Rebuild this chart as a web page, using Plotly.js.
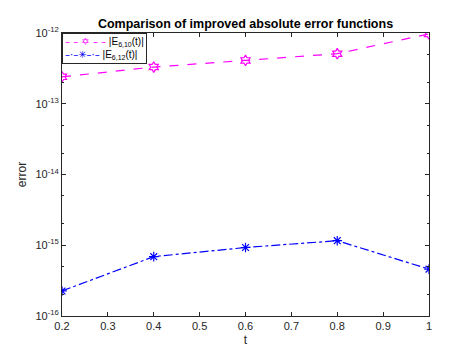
<!DOCTYPE html>
<html><head><meta charset="utf-8">
<script src="https://cdn.plot.ly/plotly-3.0.1.min.js"></script>
<style>html,body{margin:0;padding:0;background:#fff}#chart{width:474px;height:355px}</style>
</head><body><div id="chart"></div>
<script>
const t = [0.2, 0.4, 0.6, 0.8, 1.0];
const err610 = [2.4e-13, 3.3e-13, 4.1e-13, 5.1e-13, 9.7e-13];
const err612 = [2.26e-16, 6.9e-16, 9.3e-16, 1.16e-15, 4.6e-16];
const seriesNames = ['|E<sub>6,10</sub>(t)|', '|E<sub>6,12</sub>(t)|'];
const seriesColors = ['#ff00ff', '#0000ff'];
const xTicks = [0.2, 0.3, 0.4, 0.5, 0.6, 0.7, 0.8, 0.9, 1];
const xTickText = ['0.2', '0.3', '0.4', '0.5', '0.6', '0.7', '0.8', '0.9', '1'];
const yTicks = [1e-16, 1e-15, 1e-14, 1e-13, 1e-12];
const yTickText = ['10<sup>-16</sup>', '10<sup>-15</sup>', '10<sup>-14</sup>', '10<sup>-13</sup>', '10<sup>-12</sup>'];

const traces = [
  {x: t, y: err610, type: 'scatter', mode: 'lines+markers',
   name: seriesNames[0],
   line: {color: seriesColors[0], width: 1.2, dash: 'dash'},
   marker: {symbol: 'hexagram-open', size: 8, color: seriesColors[0], line: {width: 1.2, color: seriesColors[0]}}},
  {x: t, y: err612, type: 'scatter', mode: 'lines+markers',
   name: seriesNames[1],
   line: {color: seriesColors[1], width: 1.2, dash: 'dashdot'},
   marker: {symbol: 'asterisk-open', size: 8, color: seriesColors[1], line: {width: 1.2, color: seriesColors[1]}}}
];

const glyph = 'font-family:DejaVu Sans;color:';
const legendText =
  '<span style="' + glyph + seriesColors[0] + '">– – ✡ – –</span> ' + seriesNames[0] + '<br>' +
  '<span style="' + glyph + seriesColors[1] + '">–·–✳–·–</span> ' + seriesNames[1];

const axisFont = {family: 'Liberation Sans, Arial, sans-serif', size: 11, color: '#262626'};
const layout = {
  width: 474, height: 355,
  margin: {l: 62, r: 45, t: 33, b: 39},
  paper_bgcolor: '#fff', plot_bgcolor: '#fff',
  title: {text: '<b>Comparison of improved absolute error functions</b>',
          font: {family: 'Liberation Sans, Arial, sans-serif', size: 12.5, color: '#000'},
          x: 0.5, xref: 'paper', y: 1, yref: 'paper', yanchor: 'bottom', pad: {b: 5}},
  showlegend: false,
  annotations: [{
    xref: 'paper', yref: 'paper', x: 0, y: 1, xanchor: 'left', yanchor: 'top',
    text: legendText, showarrow: false, align: 'left',
    font: {family: 'Liberation Sans, Arial, sans-serif', size: 10, color: '#000'},
    bgcolor: '#fff', bordercolor: '#262626', borderwidth: 1, borderpad: 2
  }],
  xaxis: {range: [0.2, 1], tickvals: xTicks, ticktext: xTickText,
          ticks: 'inside', ticklen: 4, tickcolor: '#262626',
          showline: true, linecolor: '#262626', linewidth: 1, mirror: 'ticks',
          showgrid: false, zeroline: false, tickfont: axisFont,
          title: {text: 't', font: {family: 'Liberation Sans, Arial, sans-serif', size: 12, color: '#262626'}, standoff: 4}},
  yaxis: {type: 'log', range: [-16, -12], tickvals: yTicks, ticktext: yTickText,
          ticks: 'inside', ticklen: 4, tickcolor: '#262626',
          minor: {ticks: 'inside', ticklen: 2, tickcolor: '#262626', dtick: 'D2'},
          showline: true, linecolor: '#262626', linewidth: 1, mirror: 'ticks',
          showgrid: false, zeroline: false, tickfont: axisFont,
          title: {text: 'error', font: {family: 'Liberation Sans, Arial, sans-serif', size: 12, color: '#262626'}, standoff: 6}}
};
Plotly.newPlot('chart', traces, layout, {displayModeBar: false, staticPlot: true});
</script></body></html>
